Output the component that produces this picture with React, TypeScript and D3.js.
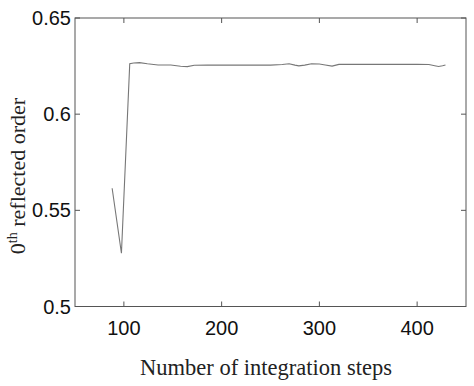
import React from "react";
import * as d3 from "d3";

const steps = [88, 97.5, 106, 110, 116, 124, 135, 148, 158, 165, 172, 185, 200, 215, 230, 250, 262, 269, 275, 279, 285, 292, 300, 306, 313, 320, 330, 350, 380, 400, 412, 418, 422, 426, 429];
const values = [0.5615, 0.5277, 0.6262, 0.6266, 0.6268, 0.6262, 0.6256, 0.6256, 0.6249, 0.6247, 0.6254, 0.6256, 0.6255, 0.6255, 0.6255, 0.6255, 0.6258, 0.6262, 0.6255, 0.6251, 0.6255, 0.6262, 0.6261, 0.6256, 0.625, 0.6259, 0.6259, 0.6259, 0.6259, 0.6259, 0.6258, 0.6252, 0.6248, 0.6252, 0.6256];
const xTicks = [100, 200, 300, 400];
const yTicks = [0.5, 0.55, 0.6, 0.65];
const yTickLabels = ["0.5", "0.55", "0.6", "0.65"];

const W = 474, H = 386;
const L = 75, R = 466, T = 18, B = 306.5;

export default function App() {
  const x = d3.scaleLinear().domain([50, 450]).range([L, R]);
  const y = d3.scaleLinear().domain([0.5, 0.65]).range([B, T]);
  const line = d3.line<number>().x((_, i) => x(steps[i])).y((d) => y(d));
  const tl = 5;
  const axisColor = "#555";
  return (
    <svg width={W} height={H} style={{ position: "absolute", left: 0, top: 0, background: "#fff" }}>
      <rect x={L} y={T} width={R - L} height={B - T} fill="none" stroke={axisColor} strokeWidth={1} />
      {xTicks.map((t) => (
        <g key={"x" + t}>
          <line x1={x(t)} x2={x(t)} y1={B} y2={B - tl} stroke={axisColor} />
          <line x1={x(t)} x2={x(t)} y1={T} y2={T + tl} stroke={axisColor} />
          <text x={x(t)} y={335} textAnchor="middle" fontFamily="Liberation Sans, Arial, sans-serif" fontSize={20} fill="#111">{t}</text>
        </g>
      ))}
      {yTicks.map((t, i) => (
        <g key={"y" + t}>
          <line x1={L} x2={L + tl} y1={y(t)} y2={y(t)} stroke={axisColor} />
          <line x1={R} x2={R - tl} y1={y(t)} y2={y(t)} stroke={axisColor} />
          <text x={71} y={y(t) + 7} textAnchor="end" fontFamily="Liberation Sans, Arial, sans-serif" fontSize={20} fill="#111">{yTickLabels[i]}</text>
        </g>
      ))}
      <path d={line(values) || ""} fill="none" stroke="#777" strokeWidth={1.1} />
      <text x={266} y={375} textAnchor="middle" fontFamily="Liberation Serif, Times New Roman, serif" fontSize={22.5} fill="#222">Number of integration steps</text>
      <text transform={`translate(25,176) rotate(-90)`} textAnchor="middle" fontFamily="Liberation Serif, Times New Roman, serif" fontSize={22} fill="#222">
        0<tspan dy={-8} fontSize={14}>th</tspan><tspan dy={8}> reflected order</tspan>
      </text>
    </svg>
  );
}
